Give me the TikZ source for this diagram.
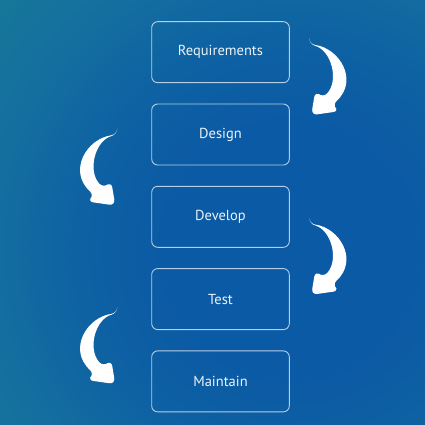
\documentclass[tikz,border=0pt]{standalone}
\usepackage{fontspec}
\setsansfont{PT Sans}
\usetikzlibrary{positioning}

\definecolor{bgteal}{HTML}{187A96}
\definecolor{bgmid}{HTML}{146EA0}
\definecolor{bgblue}{HTML}{0B5AA5}
\definecolor{bgdeep}{HTML}{0E62A2}
\pgfdeclareradialshading{bgglow}{\pgfpoint{0bp}{0bp}}{color(0bp)=(bgblue);
  color(8bp)=(bgblue); color(13.5bp)=(bgdeep); color(18.5bp)=(bgmid);
  color(26bp)=(bgteal); color(50bp)=(bgteal)}

\tikzset{
  bentarrow/.pic={
    \fill[white] (0,0) .. controls (30,4) and (50,36) .. (22.8,61)
      -- (30,67) -- (2,71) -- (6,47) -- (13.9,53.6)
      .. controls (30,36) and (22,6) .. (0,0) -- cycle;
  }
}

\begin{document}
\begin{tikzpicture}[x=1pt, y=-1pt,
              every node/.style = {shape=rectangle, rounded corners=6pt,
                draw=white, draw opacity=0.7, line width=0.9pt,
                minimum width=137.6pt, minimum height=61pt,
                align=center, text=white, text opacity=0.92,
                font=\sffamily\fontsize{14.5}{17}\selectfont},
              node distance=20.4pt]
  \useasboundingbox (0,0) rectangle (425,425);
  \begin{scope}
    \clip (0,0) rectangle (425,425);
    \shade[shading=bgglow] (-110,-150) rectangle (690,650);
  \end{scope}

  \node (req) at (220.5,52.2) {Requirements};
  \node (design) [below=of req] {Design};
  \node (develop) [below=of design] {Develop};
  \node (test) [below=of develop] {Test};
  \node (maintain) [below=of test] {Maintain};

  % arrows between the steps
  \pic at ([shift={(19.5,-8)}]req.east) {bentarrow};
  \pic[xscale=-1] at ([shift={(-34,0)}]design.west) {bentarrow};
  \pic at ([shift={(19.5,7)}]develop.east) {bentarrow};
  \pic[xscale=-1] at ([shift={(-34,14)}]test.west) {bentarrow};
\end{tikzpicture}
\end{document}
